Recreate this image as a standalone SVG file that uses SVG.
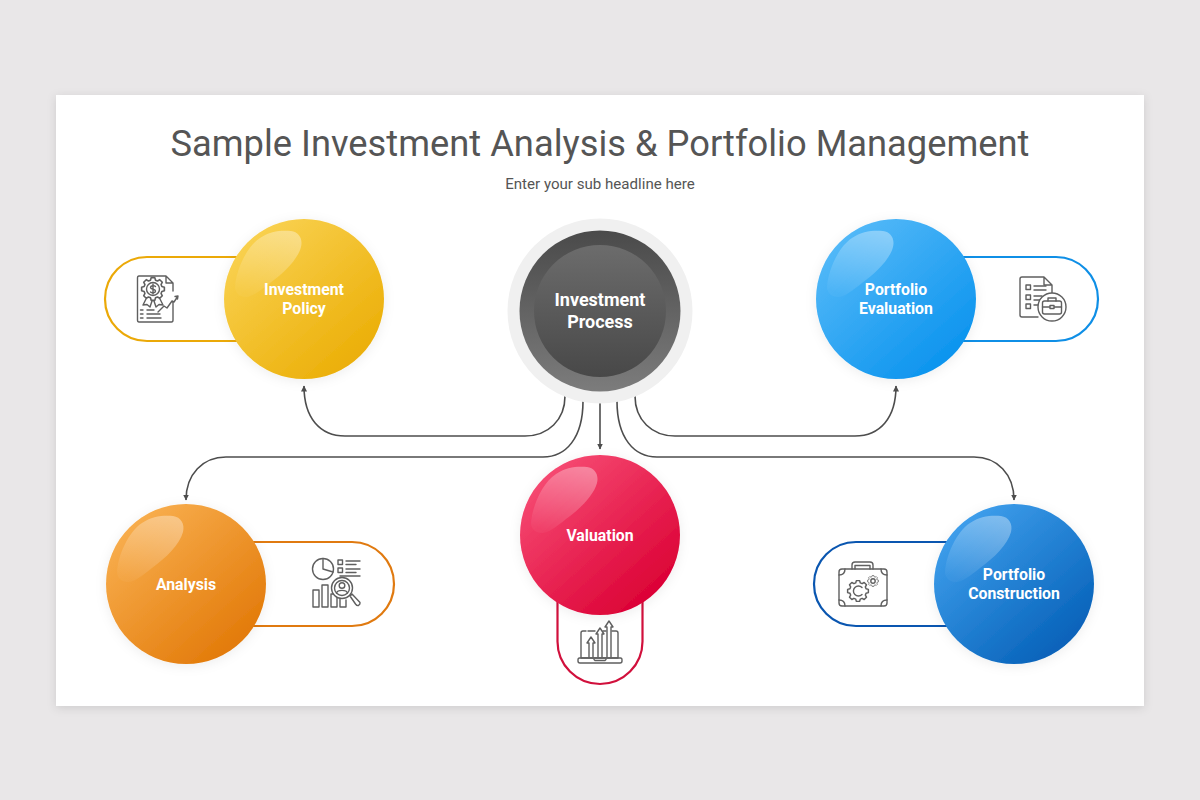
<svg xmlns="http://www.w3.org/2000/svg" xmlns:xlink="http://www.w3.org/1999/xlink" width="1200" height="800" viewBox="0 0 1200 800">
<style>
text{font-family:Roboto,"Liberation Sans",sans-serif;text-anchor:middle}
.lab{font-size:15.800px;font-weight:700;fill:#fff}
.lab2{font-size:18px;font-weight:700;fill:#fff}
.pill{fill:#fff;stroke-width:2.2}
.ic{fill:none;stroke:#5f5f5f;stroke-width:1.4;stroke-linejoin:round;stroke-linecap:round}
.icw{fill:#fff;stroke:#5f5f5f;stroke-width:1.4;stroke-linejoin:round}
.con{fill:none;stroke:#4d4d4d;stroke-width:1.6}
</style>
<defs>
<linearGradient id="gy" x1=".15" y1=".1" x2=".85" y2=".9"><stop offset="0" stop-color="#f9d150"/><stop offset="1" stop-color="#ebae06"/></linearGradient>
<linearGradient id="gb" x1=".15" y1=".1" x2=".85" y2=".9"><stop offset="0" stop-color="#54b9f8"/><stop offset="1" stop-color="#0a93ee"/></linearGradient>
<linearGradient id="go" x1=".15" y1=".1" x2=".85" y2=".9"><stop offset="0" stop-color="#f8ae4e"/><stop offset="1" stop-color="#e27908"/></linearGradient>
<linearGradient id="gr" x1=".15" y1=".1" x2=".85" y2=".9"><stop offset="0" stop-color="#f64a72"/><stop offset="1" stop-color="#db0034"/></linearGradient>
<linearGradient id="gd" x1=".15" y1=".1" x2=".85" y2=".9"><stop offset="0" stop-color="#3f9fec"/><stop offset="1" stop-color="#0560b8"/></linearGradient>
<linearGradient id="gc1" x1="0" y1="0" x2="0" y2="1"><stop offset="0" stop-color="#4a4a4a"/><stop offset="1" stop-color="#7c7c7c"/></linearGradient>
<linearGradient id="gc2" x1="0" y1="0" x2="0" y2="1"><stop offset="0" stop-color="#6c6c6c"/><stop offset="1" stop-color="#484848"/></linearGradient>
<linearGradient id="gl" x1=".75" y1="0" x2=".25" y2="1"><stop offset="0" stop-color="#fff" stop-opacity=".36"/><stop offset="1" stop-color="#fff" stop-opacity=".04"/></linearGradient>
<filter id="sh" x="-20%" y="-20%" width="140%" height="140%"><feDropShadow dx="0" dy="2" stdDeviation="6" flood-color="#000" flood-opacity=".07"/></filter>
<filter id="card" x="-5%" y="-5%" width="110%" height="110%"><feDropShadow dx="0" dy="2" stdDeviation="5" flood-color="#000" flood-opacity=".12"/></filter>
<marker id="ah" markerUnits="userSpaceOnUse" markerWidth="7" markerHeight="7" refX="5.500" refY="3" orient="auto"><path d="M0 0L6 3L0 6Z" fill="#4d4d4d"/></marker>
<path id="gloss" d="M-69-12C-68-28-58-52-44-61C-34-68-22-69-13-68C-5-67-1-60-3-52C-6-40-20-26-34-16C-44-8-52-2-58-2C-64-2-69-6-69-12Z" fill="url(#gl)"/>
<polygon id="gear" points="7.69,-2.2 9.88,-1.56 9.88,1.56 7.69,2.2 7,3.88 8.09,5.88 5.88,8.09 3.88,7 2.2,7.69 1.56,9.88 -1.56,9.88 -2.2,7.69 -3.88,7 -5.88,8.09 -8.09,5.88 -7,3.88 -7.69,2.2 -9.88,1.56 -9.88,-1.56 -7.69,-2.2 -7,-3.88 -8.09,-5.88 -5.88,-8.09 -3.88,-7 -2.2,-7.69 -1.56,-9.88 1.56,-9.88 2.2,-7.69 3.88,-7 5.88,-8.09 8.09,-5.88 7,-3.88"/>
</defs>
<rect width="1200" height="800" fill="#e9e7e8"/>
<rect x="56" y="95" width="1088" height="611" fill="#fff" filter="url(#card)"/>
<text x="600" y="156" font-size="36.300" fill="#555">Sample Investment Analysis &amp; Portfolio Management</text>
<text x="600" y="189" font-size="15.100" fill="#555">Enter your sub headline here</text>
<g id="connectors">
<path class="con" marker-end="url(#ah)" d="M565 396C565 420 548 436 525 436H345C320 436 304 418 304 386"/>
<path class="con" marker-end="url(#ah)" d="M583 401C583 438 566 457 543 457H226C203 457 186 474 186 500"/>
<path class="con" marker-end="url(#ah)" d="M600 403V449"/>
<path class="con" marker-end="url(#ah)" d="M635 396C635 420 652 436 675 436H855C880 436 896 418 896 386"/>
<path class="con" marker-end="url(#ah)" d="M617 401C617 438 634 457 657 457H974C997 457 1014 474 1014 500"/>
</g>
<g id="node-center">
<circle cx="600" cy="311" r="92.500" fill="#f0f0f0"/>
<circle cx="600" cy="311" r="80.500" fill="url(#gc1)"/>
<circle cx="600" cy="311" r="66" fill="url(#gc2)"/>
<text class="lab2" x="600" y="306">Investment</text>
<text class="lab2" x="600" y="328">Process</text>
</g>
<g id="node-policy">
<rect class="pill" x="105" y="257" width="200" height="84" rx="42" stroke="#eba908"/>
<g class="ic">
<path d="M166 276H139Q137.500 276 137.500 278V320Q137.500 322 139 322H171.500Q173 322 173 320V302M173 291V283L166 276V283H173"/>
<use xlink:href="#gear" transform="translate(153 289) scale(1.15)"/>
<circle cx="153" cy="289" r="6.500"/>
<path d="M155.500 286.500C154 285 150.500 285.500 150.500 287.500C150.500 290 155.500 288.500 155.500 291C155.500 293 152 293.500 150.500 292M153 284V294"/>
<path d="M146 299L143 305L147 304.500L150 307L152 301M160 299L163 305L159 304.500L156 307L154 301"/>
<path d="M158 312L164 306L167 308L172 301L174 302L178 296M175 296.500L178 296L177.500 299"/>
<path d="M140.500 310H143M147 310H154M140.500 314H143M147 314H160M140.500 318H143M147 318H161"/>
</g>
<circle cx="304" cy="299" r="80" fill="url(#gy)" filter="url(#sh)"/>
<use xlink:href="#gloss" transform="translate(304 299)"/>
<text class="lab" x="304" y="295">Investment</text>
<text class="lab" x="304" y="314">Policy</text>
</g>
<g id="node-evaluation">
<rect class="pill" x="896" y="257" width="202" height="84" rx="42" stroke="#0f8fe6"/>
<g class="ic">
<path d="M1044 277H1022Q1020 277 1020 279V315Q1020 317 1022 317H1038M1052 293V285L1044 277V285H1052"/>
<rect x="1026" y="285" width="4.500" height="4.500"/>
<rect x="1026" y="295" width="4.500" height="4.500"/>
<rect x="1026" y="304" width="4.500" height="4.500"/>
<path d="M1034 286H1046M1034 290H1046M1034 296H1042M1034 300H1040M1034 305H1038"/>
<circle class="icw" cx="1052" cy="307" r="14"/>
<rect x="1042.500" y="301" width="19" height="13" rx="2"/>
<path d="M1048 301V298H1056V301M1042.500 307H1050M1054 307H1061.500M1050 305.500H1054V308.500H1050Z"/>
</g>
<circle cx="896" cy="299" r="80" fill="url(#gb)" filter="url(#sh)"/>
<use xlink:href="#gloss" transform="translate(896 299)"/>
<text class="lab" x="896" y="295">Portfolio</text>
<text class="lab" x="896" y="314">Evaluation</text>
</g>
<g id="node-analysis">
<rect class="pill" x="186" y="542" width="208" height="84" rx="42" stroke="#e07a10"/>
<g class="ic">
<circle cx="323" cy="569" r="10.500"/>
<path d="M323 558.500V569L333 572"/>
<rect x="338" y="560" width="4.500" height="4.500"/>
<rect x="338" y="568" width="4.500" height="4.500"/>
<path d="M346 561H360M346 564.500H356M346 569H360M346 572.500H356M340 576H360"/>
<rect x="313" y="590" width="6" height="17"/>
<rect x="322" y="585" width="6" height="22"/>
<rect x="331" y="594" width="6" height="13"/>
<path d="M340 599V607H346V600"/>
<circle class="icw" cx="342" cy="588" r="10.500"/>
<circle cx="342" cy="588" r="7.500"/>
<circle cx="342" cy="585.500" r="2.800"/>
<path d="M336.500 593C337.500 589.500 346.500 589.500 347.500 593"/>
<path d="M350 596L352 594L360 602.500Q360.500 604 358.500 605.500Q357 606 355.500 604Z"/>
</g>
<circle cx="186" cy="584" r="80" fill="url(#go)" filter="url(#sh)"/>
<use xlink:href="#gloss" transform="translate(186 584)"/>
<text class="lab" x="186" y="590">Analysis</text>
</g>
<g id="node-valuation">
<path class="pill" d="M557.500 590V641.500A42.500 42.500 0 0 0 642.500 641.500V590" stroke="#d1103c"/>
<g class="ic">
<path d="M586 631H583Q581 631 581 633V658M618 658V633Q618 631 616 631H612M595 631H588M603 631H606M581 658H618"/>
<path d="M579.500 658H620.500Q622 658 622 660V661Q622 663 620 663H580Q578 663 578 661V660Q578 658 579.500 658ZM594 659.500L595 660.500H605L606 659.500"/>
<path d="M589 657V643H587L591 637L595 643H593V657"/>
<path d="M598 657V634H596L600 628L604 634H602V657"/>
<path d="M607 657V627H605L609 621L613 627H611V657"/>
</g>
<circle cx="600" cy="535" r="80" fill="url(#gr)" filter="url(#sh)"/>
<use xlink:href="#gloss" transform="translate(600 535)"/>
<text class="lab" x="600" y="541">Valuation</text>
</g>
<g id="node-construction">
<rect class="pill" x="814" y="542" width="200" height="84" rx="42" stroke="#0a56b0"/>
<g class="ic">
<rect x="839" y="569" width="48" height="37" rx="3"/>
<path d="M852 569V565Q852 562 855 562H870Q873 562 873 565V569M855 569V565.500H870V569"/>
<path d="M839 575Q845 575 845 569M887 575Q881 575 881 569M839 600Q845 600 845 606M887 600Q881 600 881 606"/>
<use xlink:href="#gear" transform="translate(858 591) scale(1.05)"/>
<path d="M862 587.500A5 5 0 1 0 862 594.500"/>
<use xlink:href="#gear" transform="translate(873 581) scale(.55)"/>
<circle cx="873" cy="581" r="2.200"/>
</g>
<circle cx="1014" cy="584" r="80" fill="url(#gd)" filter="url(#sh)"/>
<use xlink:href="#gloss" transform="translate(1014 584)"/>
<text class="lab" x="1014" y="580">Portfolio</text>
<text class="lab" x="1014" y="599">Construction</text>
</g>
</svg>
